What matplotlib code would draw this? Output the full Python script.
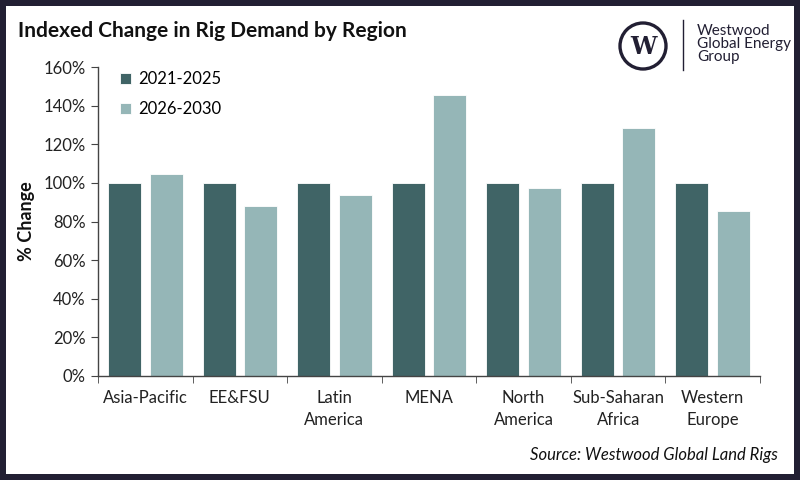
import numpy as np
import matplotlib.pyplot as plt
from matplotlib.patches import Rectangle, Circle

regions = ["Asia-Pacific", "EE&FSU", "Latin\nAmerica", "MENA", "North\nAmerica",
           "Sub-Saharan\nAfrica", "Western\nEurope"]
series_names = ["2021-2025", "2026-2030"]
demand_2021_2025 = [100, 100, 100, 100, 100, 100, 100]
demand_2026_2030 = [104.7, 88.2, 93.8, 145.6, 97.4, 128.2, 85.6]

dark = "#406466"
light = "#95b6b7"
navy = "#221f33"

plt.rcParams["font.family"] = ["Lato", "DejaVu Sans"]

fig = plt.figure(figsize=(8, 4.8), dpi=100)
fig.patch.set_facecolor(navy)
fig.patches.append(Rectangle((6 / 800, 6 / 480), 788 / 800, 468 / 480,
                             transform=fig.transFigure, facecolor="white",
                             edgecolor="none", zorder=-10))

ax = fig.add_axes([98 / 800, 1 - 376 / 480, 662 / 800, 309 / 480])
ax.set_facecolor("white")

x = np.arange(len(regions))
w = 0.35
ax.bar(x - 0.22, demand_2021_2025, w, color=dark, edgecolor="white",
       linewidth=0.6, label=series_names[0])
ax.bar(x + 0.22, demand_2026_2030, w, color=light, edgecolor="white",
       linewidth=0.6, label=series_names[1])

ax.set_xlim(-0.5, len(regions) - 0.5)
ax.set_ylim(0, 160)
ax.set_yticks(np.arange(0, 161, 20))
ax.set_yticklabels([f"{v}%" for v in range(0, 161, 20)], fontsize=12, color="#222222")
ax.set_xticks(x)
ax.set_xticklabels(regions, fontsize=12, color="#222222", linespacing=1.5)
ax.set_xticks(np.arange(-0.5, len(regions), 1), minor=True)
ax.tick_params(axis="x", which="major", length=0, pad=10)
ax.tick_params(axis="x", which="minor", length=5, color="#444444")
ax.tick_params(axis="y", length=5, color="#444444", pad=4)

for s in ["top", "right"]:
    ax.spines[s].set_visible(False)
for s in ["left", "bottom"]:
    ax.spines[s].set_color("#444444")
    ax.spines[s].set_linewidth(1)

ax.set_ylabel("% Change", fontsize=13, fontweight="bold", color="#111111", labelpad=6)

leg = ax.legend(loc="upper left", bbox_to_anchor=(0.01, 1.035), frameon=False,
                fontsize=12, handlelength=0.7, handleheight=0.7,
                handletextpad=0.4, labelspacing=0.85)

fig.text(18 / 800, 1 - 31 / 480, "Indexed Change in Rig Demand by Region",
         fontsize=15, fontweight="bold", color="#111111", va="center")
fig.text(778 / 800, 1 - 455 / 480, "Source: Westwood Global Land Rigs",
         fontsize=12, style="italic", color="#111111", ha="right", va="center")

# logo (local coords = figure pixels offset by (600, 10))
logo_ax = fig.add_axes([600 / 800, 1 - 80 / 480, 200 / 800, 70 / 480])
logo_ax.set_xlim(0, 200)
logo_ax.set_ylim(70, 0)
logo_ax.set_aspect("equal")
logo_ax.axis("off")
logo_ax.add_patch(Circle((43, 36), 23, fill=False, edgecolor=navy, linewidth=2.4))
logo_ax.text(43, 37, "W", fontsize=17, fontweight="black", family="DejaVu Serif",
             color=navy, ha="center", va="center")
logo_ax.plot([83, 83], [10, 60], color=navy, linewidth=1)
logo_ax.text(97, 34, "Westwood\nGlobal Energy\nGroup", fontsize=11, color=navy,
             ha="left", va="center", linespacing=0.92)

fig.savefig("out.png", dpi=100, facecolor=fig.get_facecolor())
